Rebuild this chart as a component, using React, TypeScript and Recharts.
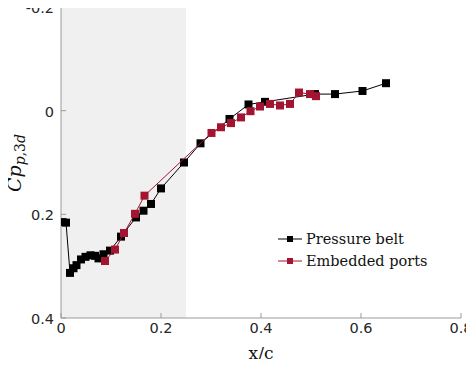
import React from 'react'
import {
  ScatterChart, Scatter, XAxis, YAxis, ZAxis, ReferenceArea,
} from 'recharts'

// pressure belt (black)
const beltX  = [0.003, 0.010, 0.018, 0.025, 0.031, 0.040, 0.049, 0.059, 0.068, 0.075, 0.085, 0.098,
                0.120, 0.150, 0.165, 0.180, 0.200, 0.246, 0.279, 0.337, 0.375, 0.408, 0.508, 0.548, 0.603, 0.650]
const beltCp = [0.215, 0.216, 0.313, 0.304, 0.298, 0.287, 0.282, 0.279, 0.280, 0.285, 0.277, 0.270,
                0.243, 0.206, 0.193, 0.180, 0.150, 0.100, 0.063, 0.016, -0.012, -0.017, -0.032, -0.032, -0.038, -0.053]

// embedded ports (red)
const portX  = [0.088, 0.108, 0.126, 0.148, 0.167, 0.301, 0.320, 0.340, 0.360, 0.379, 0.398, 0.418,
                0.438, 0.458, 0.476, 0.498, 0.510]
const portCp = [0.290, 0.268, 0.236, 0.199, 0.164, 0.043, 0.032, 0.024, 0.013, 0.001, -0.008, -0.013,
                -0.010, -0.013, -0.035, -0.032, -0.028]

const xTicks = [0, 0.2, 0.4, 0.6, 0.8]
const yTicks = [-0.2, 0, 0.2, 0.4]

const RED = '#A2142F'
const AXIS = '#9a9a9a'
const SANS = "'DejaVu Sans', sans-serif"
const SERIF = "'DejaVu Serif', serif"

const belt = beltX.map((x, i) => ({ x, cp: beltCp[i] }))
const ports = portX.map((x, i) => ({ x, cp: portCp[i] }))

const legendItems = [
  { name: 'Pressure belt', color: '#000' },
  { name: 'Embedded ports', color: RED },
]

function XTick(props: any) {
  const { x, y, payload } = props
  return (
    <text x={x} y={y} textAnchor="middle" fontSize={14.5} fontFamily={SANS} fill="#262626">
      {String(payload.value)}
    </text>
  )
}

function YTick(props: any) {
  const { x, y, payload } = props
  return (
    <text x={x} y={y + 6} textAnchor="end" fontSize={14.5} fontFamily={SANS} fill="#262626">
      {String(payload.value)}
    </text>
  )
}

function LegendBox() {
  return (
    <svg width={190} height={48} style={{ position: 'absolute', left: 275, top: 228 }}>
      {legendItems.map((it, i) => {
        const y = 11 + i * 22
        return (
          <g key={it.name}>
            <line x1={3} x2={27} y1={y} y2={y} stroke={it.color} strokeWidth={1} />
            <rect x={12} y={y - 3} width={6} height={6} fill={it.color} />
            <text x={31} y={y + 5} fontSize={14.5} fontFamily={SERIF} fill="#111">
              {it.name}
            </text>
          </g>
        )
      })}
    </svg>
  )
}

function YLabel() {
  return (
    <text
      transform="translate(21,163) rotate(-90)"
      textAnchor="middle"
      fontFamily={SERIF}
      fill="#111"
      fontSize={19}
    >
      <tspan fontStyle="italic">Cp</tspan>
      <tspan fontSize={14} dy={4} fontStyle="italic">p</tspan>
      <tspan fontSize={14}>,3</tspan>
      <tspan fontSize={14} fontStyle="italic">d</tspan>
    </text>
  )
}

function XLabel() {
  return (
    <text x={261} y={359} textAnchor="middle" fontFamily={SERIF} fontSize={17} fill="#111">
      x/c
    </text>
  )
}

export default function App() {
  return (
    <div style={{ margin: -8, width: 474, height: 367, background: '#fff', position: 'relative' }}>
      <ScatterChart width={474} height={367} margin={{ top: 7, right: 13, bottom: 0, left: 0 }}>
        <ReferenceArea x1={0} x2={0.25} y1={-0.2} y2={0.4} fill="#f0f0f0" fillOpacity={1} stroke="none" />
        <XAxis
          type="number"
          dataKey="x"
          domain={[0, 0.8]}
          ticks={xTicks}
          interval={0}
          height={49}
          tick={<XTick />}
          tickSize={-5}
          tickMargin={20}
          stroke={AXIS}
          allowDataOverflow
          label={<XLabel />}
        />
        <YAxis
          type="number"
          dataKey="cp"
          domain={[-0.2, 0.4]}
          reversed
          ticks={yTicks}
          interval={0}
          width={61}
          tick={<YTick />}
          tickSize={-5}
          tickMargin={12}
          stroke={AXIS}
          allowDataOverflow
          label={<YLabel />}
        />
        <ZAxis range={[36, 36]} />
        <Scatter
          name="Pressure belt"
          data={belt}
          fill="#000"
          shape="square"
          line={{ stroke: '#000', strokeWidth: 1 }}
          isAnimationActive={false}
        />
        <Scatter
          name="Embedded ports"
          data={ports}
          fill={RED}
          shape="square"
          line={{ stroke: RED, strokeWidth: 1 }}
          isAnimationActive={false}
        />
      </ScatterChart>
      <LegendBox />
    </div>
  )
}
